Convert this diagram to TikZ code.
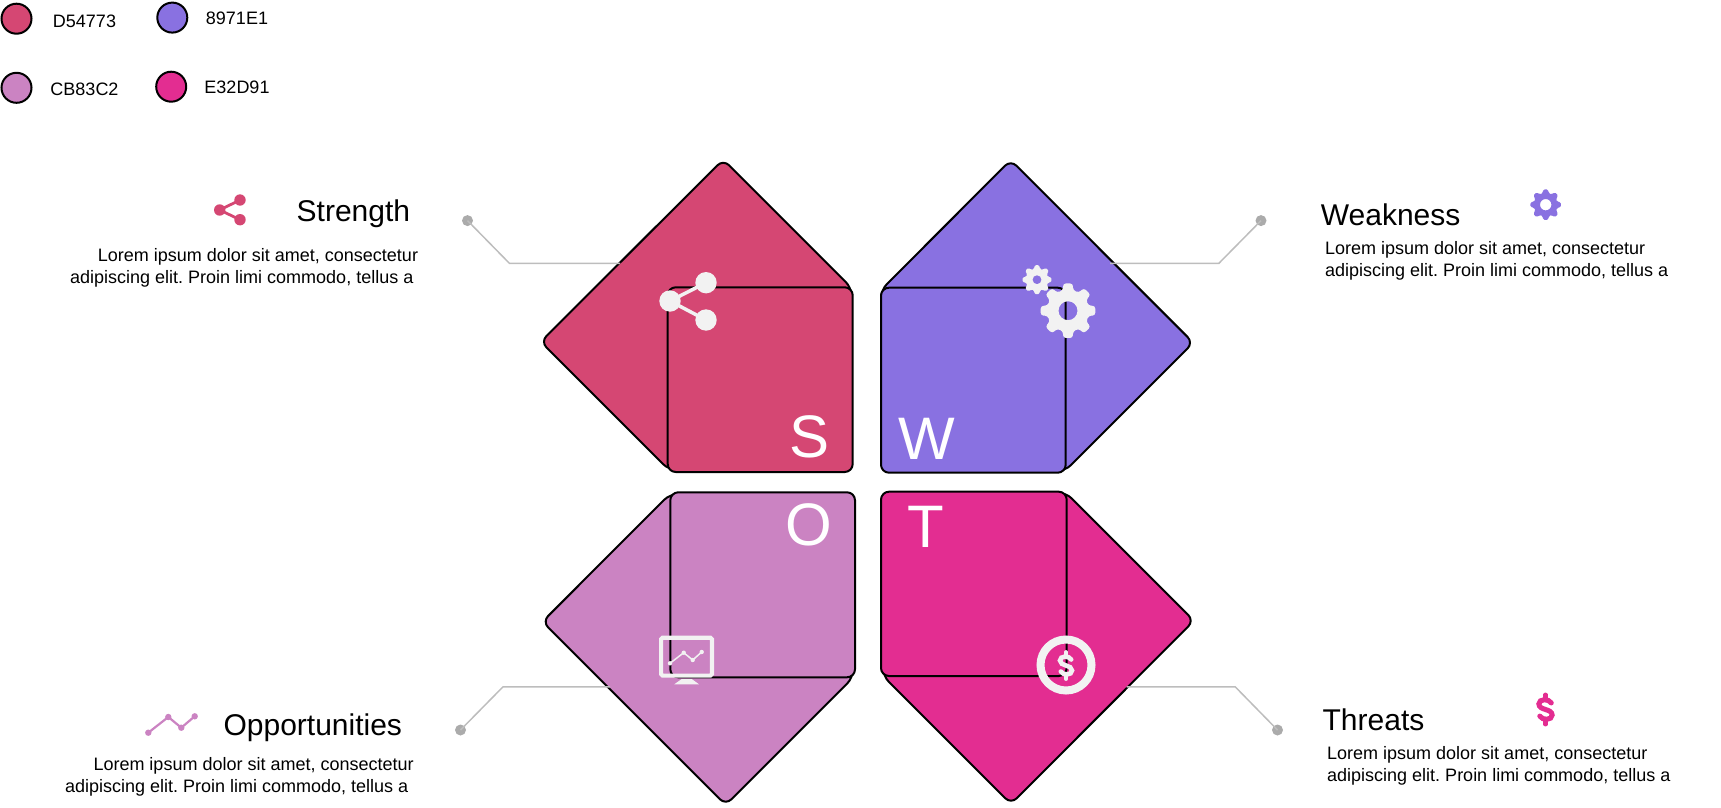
\documentclass[tikz,border=0pt]{standalone}
\usepackage{fontspec}
\setmainfont{Liberation Sans}
\frenchspacing
\definecolor{cS}{HTML}{D54773}
\definecolor{cW}{HTML}{8971E1}
\definecolor{cO}{HTML}{CB83C2}
\definecolor{cT}{HTML}{E32D91}
\definecolor{iconw}{HTML}{F2F2F2}
\definecolor{linec}{HTML}{BDBDBD}
\definecolor{dotc}{HTML}{ABABAB}
\newcommand\gearicon[5]{%
  \begin{scope}[shift={(#1,#2)}]
  \fill[#5,even odd rule,rounded corners=#3*0.1pt] (22.5:{.76*#3})
    \foreach \a in {45,90,...,360}{ -- (\a-14:{.76*#3}) -- (\a-10:#3) -- (\a+10:#3) -- (\a+14:{.76*#3}) }
    -- cycle (0,0) circle (#4pt);
  \end{scope}}
\newcommand\dollaricon[4]{%
  \begin{scope}[shift={(#1,#2)},scale=#3]
  \draw[#4,line width=#3*4.6pt,line cap=round]
    (5.2,-6) .. controls (3,-10) and (-6,-10) .. (-6,-5) .. controls (-6,1) and (6,-1) .. (6,5) .. controls (6,10) and (-3,10) .. (-5.2,6);
  \draw[#4,line width=#3*3.8pt,line cap=round] (0,-10) -- (0,-13.5) (0,10) -- (0,13.5);
  \end{scope}}
\tikzset{
  x=1pt,y=-1pt,
  panel/.style={draw=black,line width=2pt,rounded corners=8pt,line join=round},
  legendc/.style={circle,draw=black,line width=2pt,minimum size=30pt,inner sep=0pt},
  legendt/.style={font=\fontsize{18}{18}\selectfont,inner sep=0pt},
  head/.style={font=\fontsize{30}{30}\selectfont,inner sep=0pt},
  bodyt/.style={font=\fontsize{18}{18}\selectfont,anchor=base west,inner sep=0pt},
  letter/.style={font=\fontsize{60}{60}\selectfont,text=white,inner sep=0pt},
  conn/.style={draw=linec,line width=1.5pt},
  endp/.style={circle,fill=dotc,minimum size=11pt,inner sep=0pt},
}
\begin{document}
\begin{tikzpicture}
\useasboundingbox (0,0) rectangle (1721,808);
% legend
\node[legendc,fill=cS] (l1) at (16.5,18.7) {};
\node[legendc,fill=cW] (l2) at (172.3,17.6) {};
\node[legendc,fill=cO] (l3) at (16.5,87.8) {};
\node[legendc,fill=cT] (l4) at (171.2,86.7) {};
\node[legendt] (lt1) at (84.5,20.9) {D54773};
\node[legendt] (lt2) at (237,18.7) {8971E1};
\node[legendt] (lt3) at (84.5,89) {CB83C2};
\node[legendt] (lt4) at (237,87.7) {E32D91};
% panels
\draw[panel,fill=cS] (723.3,159.5) -- (851.5,287.7) -- (851.5,470) -- (669,470) -- (540.7,341.7) -- cycle;
\draw[panel,fill=cS] (667.7,287.3) rectangle (852.7,472);
\draw[panel,fill=cW] (1010.7,160) -- (1193.3,342.7) -- (1065,471) -- (881,471) -- (881,290) -- cycle;
\draw[panel,fill=cW] (881,287.7) rectangle (1065.7,472.7);
\draw[panel,fill=cO] (542.4,621.7) -- (670,494) -- (853,494) -- (853,677.7) -- (725.7,805) -- cycle;
\draw[panel,fill=cO] (670.3,492.3) rectangle (855,677.3);
\draw[panel,fill=cT] (1066,492.7) -- (1194,620.7) -- (1011,804) -- (883,676) -- (883,492.7) -- cycle;
\draw[panel,fill=cT] (881,491.7) rectangle (1066.7,676);
% connectors
\node[endp] (d1) at (467.5,220.6) {};
\coordinate (k1) at (509.5,263.4);
\coordinate (e1) at (620,263.4);
\node[endp] (d2) at (1261,220.6) {};
\coordinate (k2) at (1218.8,263.4);
\coordinate (e2) at (1110,263.4);
\node[endp] (d3) at (460.5,730) {};
\coordinate (k3) at (503,686.8);
\coordinate (e3) at (610,686.8);
\node[endp] (d4) at (1277.5,730) {};
\coordinate (k4) at (1235.2,686.8);
\coordinate (e4) at (1126.7,686.8);
\draw[conn] (d1.center) -- (k1) -- (e1);
\draw[conn] (d2.center) -- (k2) -- (e2);
\draw[conn] (d3.center) -- (k3) -- (e3);
\draw[conn] (d4.center) -- (k4) -- (e4);
% letters
\node[letter] (ls) at (809.3,436.7) {S};
\node[letter] (lw) at (926.5,439.3) {W};
\node[letter] (lo) at (809.3,525.3) {O};
\node[letter] (lt) at (926,527.3) {T};
% large share
\draw[iconw,line width=3.5pt] (706,282.7) -- (670,301) -- (706,320);
\fill[iconw] (670,301) circle (10.7pt) (706,282.7) circle (10.7pt) (706,320) circle (10.7pt);
% large gears
\gearicon{1068}{310.7}{27.7}{9.5}{iconw}
\gearicon{1037}{279.7}{14.7}{4.5}{iconw}
% large monitor
\draw[iconw,line width=4.2pt,rounded corners=1.5pt] (661.1,637.8) rectangle (711.9,675.6);
\fill[iconw] (674.3,684.3) -- (699,684.3) -- (691.7,679) -- (681.7,679) -- cycle;
\draw[iconw,line width=1.5pt] (670,663.3) -- (683.7,652.7) -- (692.7,660) -- (701.7,652);
\fill[iconw] (670,663.3) circle (2.2pt) (683.7,652.7) circle (2.2pt) (692.7,660) circle (2.2pt) (701.7,652) circle (2.2pt);
% large dollar
\draw[iconw,line width=8pt] (1066,665) circle (25.5pt);
\dollaricon{1066}{665.5}{1}{iconw}
% small icons
\draw[cS,line width=2.8pt] (240,200) -- (219.7,210) -- (240,219.7);
\fill[cS] (219.7,210) circle (5.7pt) (240,200) circle (5.7pt) (240,219.7) circle (5.7pt);
\gearicon{1545.7}{204.7}{15.5}{5.7}{cW}
\draw[cO,line width=2.2pt] (148.3,732.7) -- (168.3,717) -- (181.3,727.7) -- (194.7,716.3);
\fill[cO] (148.3,732.7) circle (3.2pt) (168.3,717) circle (3.2pt) (181.3,727.7) circle (3.2pt) (194.7,716.3) circle (3.2pt);
\dollaricon{1545.5}{709.5}{1.1}{cT}
% headings
\node[head] (h1) at (353.4,214) {Strength};
\node[head] (h2) at (1390.6,215) {Weakness};
\node[head] (h3) at (312.8,728) {Opportunities};
\node[head] (h4) at (1373.5,719.5) {Threats};
% body text
\node[bodyt] (b1a) at (97.7,261.5) {Lorem ipsum dolor sit amet, consectetur};
\node[bodyt] (b1b) at (70,283.5) {adipiscing elit. Proin limi commodo, tellus a};
\node[bodyt] (b2a) at (1324.8,254.5) {Lorem ipsum dolor sit amet, consectetur};
\node[bodyt] (b2b) at (1324.8,276) {adipiscing elit. Proin limi commodo, tellus a};
\node[bodyt] (b3a) at (93.3,770.5) {Lorem ipsum dolor sit amet, consectetur};
\node[bodyt] (b3b) at (64.8,792.5) {adipiscing elit. Proin limi commodo, tellus a};
\node[bodyt] (b4a) at (1327,759) {Lorem ipsum dolor sit amet, consectetur};
\node[bodyt] (b4b) at (1327,781) {adipiscing elit. Proin limi commodo, tellus a};
\end{tikzpicture}
\end{document}
